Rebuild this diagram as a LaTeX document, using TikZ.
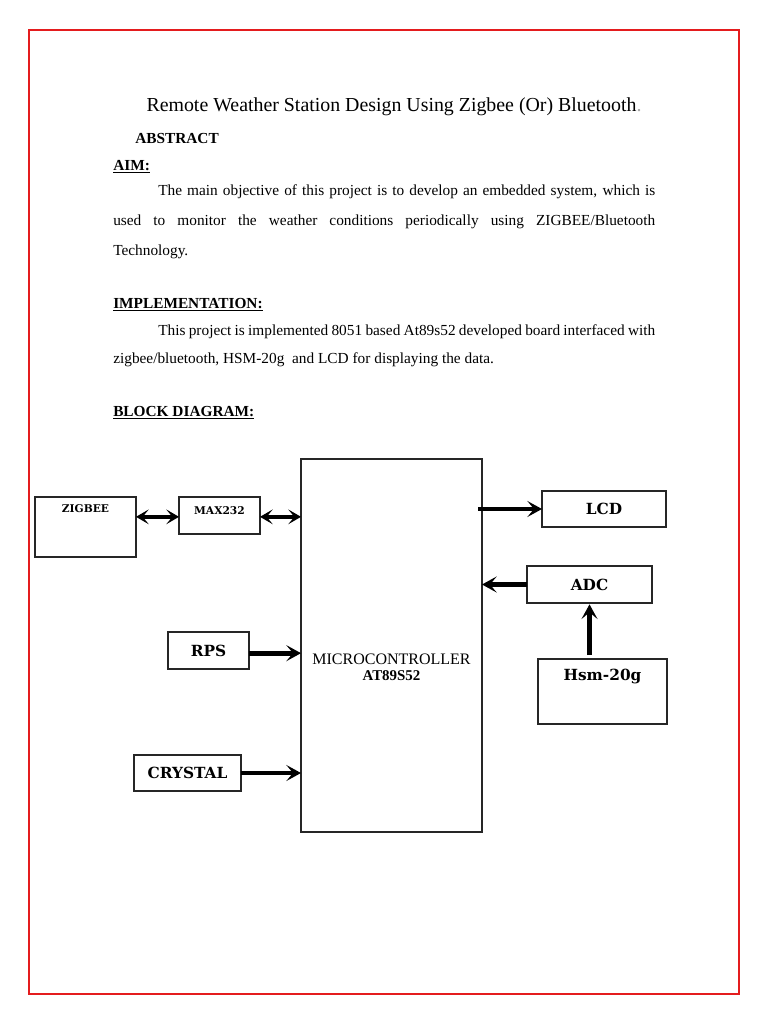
\documentclass[tikz,border=0pt]{standalone}
\usepackage{fontspec}
\setmainfont{Liberation Serif}
\newfontfamily\blockfont{DejaVu Serif}
\usetikzlibrary{arrows.meta}
\definecolor{pagered}{RGB}{228,28,30}
\tikzset{
  box/.style={draw=black!85, line width=0.8pt, inner sep=0pt, outer sep=0pt, anchor=north west},
  blk/.style={font=\blockfont\bfseries\fontsize{11.5}{13}\selectfont, inner sep=0pt},
  blksmall/.style={font=\blockfont\bfseries\fontsize{8}{10}\selectfont, inner sep=0pt},
  txt/.style={font=\fontsize{11.5}{13}\selectfont, inner sep=0pt, anchor=base west},
  hd/.style={font=\bfseries\fontsize{11.5}{13}\selectfont, inner sep=0pt, anchor=base west},
  tip/.tip={Stealth[length=11pt,width=12pt,inset=5pt]},
  dtip/.tip={Stealth[length=9.5pt,width=11pt,inset=4.5pt]},
  arr/.style={line width=3.5pt, -tip},
  darr/.style={line width=3.2pt, dtip-dtip}
}
\begin{document}
\begin{tikzpicture}[x=0.75pt,y=-0.75pt]
\useasboundingbox (0,0) rectangle (768,1024);
\fill[white] (0,0) rectangle (768,1024);
\draw[pagered, line width=1.6pt] (29,30) rectangle (739,994);

% texts
\node[font=\fontsize{14.9}{17}\selectfont, inner sep=0pt, anchor=base] (title) at (394,112)
  {Remote Weather Station Design Using Zigbee (Or) Bluetooth\textcolor{black!35}{.}};
\node[hd] (abs) at (135,143) {ABSTRACT};
\node[hd] (aim) at (113,170) {\underline{AIM:}};
\node[txt] (p1) at (158,195) {\makebox[372.75pt][s]{The main objective of this project is to develop an embedded system, which is}};
\node[txt] (p2) at (113,225) {\makebox[406.5pt][s]{used to monitor the weather conditions periodically using ZIGBEE/Bluetooth}};
\node[txt] (p3) at (113,255) {Technology.};
\node[hd] (impl) at (113,308) {\underline{IMPLEMENTATION:}};
\node[txt] (q1) at (158,335) {\makebox[372.75pt][s]{This project is implemented 8051 based At89s52 developed board interfaced with}};
\node[txt] (q2) at (113,363) {zigbee/bluetooth, HSM-20g\ \ and LCD for displaying the data.};
\node[hd] (bd) at (113,416) {\underline{BLOCK DIAGRAM:}};

% blocks
\node[box, minimum width=75.75pt, minimum height=45pt] (zigbee) at (35,497) {};
\node[blksmall] at (85.5,509) {ZIGBEE};
\node[box, minimum width=60.75pt, minimum height=27.75pt] (max) at (179,497) {};
\node[blksmall] at (219.5,511) {MAX232};
\node[box, minimum width=135.75pt, minimum height=279.75pt] (mc) at (301,459) {};
\node[font=\fontsize{12}{13}\selectfont, inner sep=0pt] (mct) at (391.5,659) {MICROCONTROLLER};
\node[font=\bfseries\fontsize{11.2}{13}\selectfont, inner sep=0pt] (mct2) at (391.5,676) {AT89S52};
\node[box, minimum width=93pt, minimum height=27pt] (lcd) at (542,491) {};
\node[blk] at (lcd.center) {LCD};
\node[box, minimum width=93.75pt, minimum height=27.75pt] (adc) at (527,566) {};
\node[blk] at (adc.center) {ADC};
\node[box, minimum width=96.75pt, minimum height=48.75pt] (hsm) at (538,659) {};
\node[blk] at (602.5,677) {Hsm-20g};
\node[box, minimum width=60.75pt, minimum height=27.75pt] (rps) at (168,632) {};
\node[blk] at (rps.center) {RPS};
\node[box, minimum width=80.25pt, minimum height=27pt] (crystal) at (134,755) {};
\node[blk] at (crystal.center) {CRYSTAL};

% connectors
\draw[darr] ([yshift=-1pt]max.west -| zigbee.east) -- ([yshift=-1pt]max.west);
\draw[darr] ([yshift=-1pt]max.east) -- ([yshift=-1pt]max.east -| mc.west);
\draw[arr] ([xshift=-3pt]lcd.west -| mc.east) -- (lcd.west);
\draw[arr] (adc.west) -- (adc.west -| mc.east);
\draw[arr] ([yshift=3pt]adc.south |- hsm.north) -- ([yshift=-1pt]adc.south);
\draw[arr] ([yshift=-2pt]rps.east) -- ([yshift=-2pt]rps.east -| mc.west);
\draw[arr] (crystal.east) -- (crystal.east -| mc.west);
\end{tikzpicture}
\end{document}
